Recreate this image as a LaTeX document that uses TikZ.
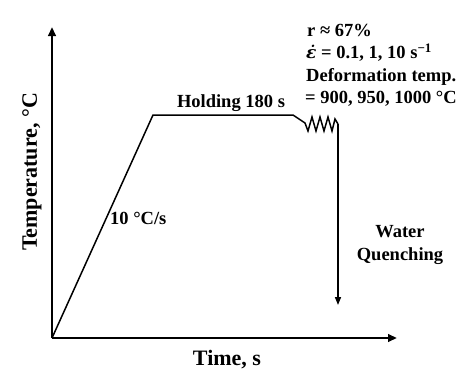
\documentclass[tikz,border=0pt]{standalone}
\usepackage{fontspec}
\setmainfont{Liberation Serif}
\newfontfamily\dvserif{DejaVu Serif}
\usetikzlibrary{arrows.meta}
\newcommand{\epsdot}{{\dvserif\bfseries\itshape\fontsize{17}{22}\selectfont ε̇}}
\tikzset{
  axis/.style={line width=2.4pt,-{Triangle[length=9pt,width=7.5pt]}},
  curve/.style={line width=1.5pt,line join=miter},
  lbl/.style={font=\bfseries\fontsize{18.5}{22.3}\selectfont,inner sep=0pt},
  biglbl/.style={font=\bfseries\fontsize{22}{26}\selectfont,inner sep=0pt},
}
\begin{document}
\begin{tikzpicture}[x=1pt,y=-1pt]
\useasboundingbox (0,0) rectangle (474,388);
\fill[white] (0,0) rectangle (474,388);
\coordinate (O) at (52,338);
\coordinate (Ytop) at (52,27);
\coordinate (Xend) at (397,338);
\coordinate (A) at (153,115);
\coordinate (B) at (293,115);
\coordinate (Z) at (338,124);
\coordinate (Qend) at (338,305);
% axes
\draw[axis] (O) -- (Ytop);
\draw[axis] (O) -- (Xend);
% profile
\draw[curve] (O) -- (A) -- (B) -- (305,123) -- (308,131) -- (312,117) -- (316,131) -- (320,117) -- (324,131) -- (328,117) -- (332,131) -- (335,119) -- (Z);
\draw[curve,-{Triangle[length=8pt,width=6pt]}] (Z) -- (Qend);
% labels
\node[lbl] (hold) at (231,103) {Holding 180 s};
\node[lbl,anchor=west] (rate) at (110,218) {10 °C/s};
\node[lbl,align=center] (wq) at (400,245) {Water\\Quenching};
\node[lbl,align=left,anchor=north west] (cond) at (305,24)
  {\hspace{2pt}r ≈ 67\%\\
   \hspace{1pt}\epsdot{} = 0.1, 1, 10 s\textsuperscript{−1}\\
   \hspace{1pt}Deformation temp.\\
   = 900, 950, 1000 °C};
\node[biglbl] (xl) at (227,360) {Time, s};
\node[biglbl,rotate=90] (yl) at (32,172) {Temperature, °C};
\end{tikzpicture}
\end{document}
